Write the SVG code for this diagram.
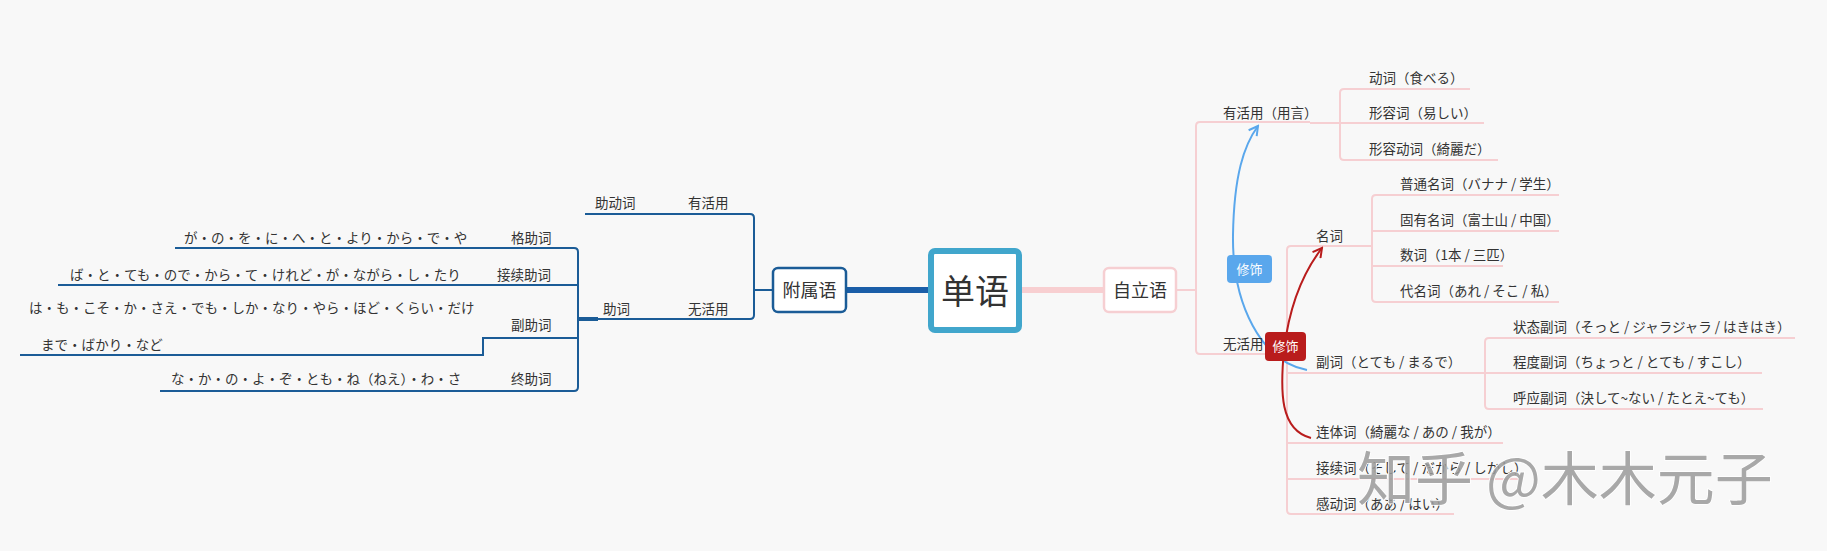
<svg xmlns="http://www.w3.org/2000/svg" width="1827" height="551" viewBox="0 0 1827 551">
<defs>
<style>
text{font-family:"Noto Sans CJK SC","Noto Sans CJK JP",sans-serif;fill:#333;font-size:13.5px}
.b{fill:none;stroke:#1b5c97;stroke-width:2}
.p{fill:none;stroke:#f6cfd2;stroke-width:2}
.lt{text-anchor:start}
</style>
<marker id="ab" viewBox="0 0 12 12" refX="10" refY="6" markerWidth="12" markerHeight="12" markerUnits="userSpaceOnUse" orient="auto"><path d="M1,1 L10,6 L1,11" fill="none" stroke="#5aa7ec" stroke-width="2"/></marker>
<marker id="ar" viewBox="0 0 12 12" refX="10" refY="6" markerWidth="12" markerHeight="12" markerUnits="userSpaceOnUse" orient="auto"><path d="M1,1 L10,6 L1,11" fill="none" stroke="#b91c1c" stroke-width="2"/></marker>
</defs>
<rect width="1827" height="551" fill="#f8f8f8"/>
<g id="connectors">
<line x1="847" y1="290" x2="928" y2="290" stroke="#1a5ea8" stroke-width="6"/>
<line x1="1022" y1="290" x2="1103" y2="290" stroke="#f8cfd1" stroke-width="6"/>
<path class="b" d="M772,290 H754 M585,214 H750 Q754,214 754,218 V315 Q754,319 750,319 H579"/>
<path class="b" d="M175,248 H574 Q578,248 578,252 V387 Q578,391 574,391 H160 M578,338 H483 V355 H20 M58,285 H578"/>
<line x1="578" y1="319" x2="598" y2="319" stroke="#1b5c97" stroke-width="4"/>
<path class="p" d="M1177,290 H1196 M1310,122 H1200 Q1196,122 1196,126 V350 Q1196,354 1200,354 H1287"/>
<path class="p" d="M1310,123 H1340 M1470,89 H1344 Q1340,89 1340,93 V156 Q1340,160 1344,160 H1498 M1340,123 H1484"/>
<path class="p" d="M1372,246 H1291 Q1287,246 1287,250 V510 Q1287,514 1291,514 H1454 M1287,373 H1485 M1287,443 H1503 M1287,479 H1518"/>
<path class="p" d="M1559,195 H1376 Q1372,195 1372,199 V298 Q1372,302 1376,302 H1559 M1372,231 H1559 M1372,266 H1503"/>
<path class="p" d="M1795,338 H1489 Q1485,338 1485,342 V405 Q1485,409 1489,409 H1763 M1485,373 H1762"/>
<path d="M1307,370 C1262,362 1232,305 1233,235 C1234,175 1244,145 1258,126" fill="none" stroke="#5aa7ec" stroke-width="2" marker-end="url(#ab)"/>
<path d="M1311,438 C1280,430 1280,392 1284,350 C1290,300 1305,270 1322,248" fill="none" stroke="#b91c1c" stroke-width="2" marker-end="url(#ar)"/>
</g>
<g id="n-root"><rect x="931" y="251" width="88" height="79" rx="4" fill="#fff" stroke="#41a6cc" stroke-width="6"/><text x="975" y="304" text-anchor="middle" style="font-size:34px">单语</text></g>
<g id="n-fuzokugo"><rect x="773" y="268" width="73" height="44" rx="5" fill="#fff" stroke="#1b5c97" stroke-width="2.5"/><text x="809.5" y="297" text-anchor="middle" style="font-size:18px">附属语</text></g>
<g id="n-jiritsugo"><rect x="1104" y="268" width="72" height="44" rx="5" fill="#fff" stroke="#f6cfd2" stroke-width="2.5"/><text x="1140" y="297" text-anchor="middle" style="font-size:18px">自立语</text></g>
<g id="n-left">
<text x="595" y="208">助动词</text><text x="688" y="208">有活用</text>
<text x="603" y="314">助词</text><text x="688" y="314">无活用</text>
<text x="511" y="243">格助词</text><text x="184" y="243">が・の・を・に・へ・と・より・から・で・や</text>
<text x="497" y="280">接续助词</text><text x="70" y="280">ば・と・ても・ので・から・て・けれど・が・ながら・し・たり</text>
<text x="511" y="330">副助词</text><text x="29" y="313">は・も・こそ・か・さえ・でも・しか・なり・やら・ほど・くらい・だけ</text><text x="41" y="350">まで・ばかり・など</text>
<text x="511" y="384">终助词</text><text x="171" y="384">な・か・の・よ・ぞ・とも・ね（ねえ）・わ・さ</text>
</g>
<g id="n-right">
<text x="1223" y="118">有活用（用言）</text>
<text x="1369" y="83">动词（食べる）</text>
<text x="1369" y="118">形容词（易しい）</text>
<text x="1369" y="154">形容动词（綺麗だ）</text>
<text x="1316" y="241">名词</text>
<text x="1400" y="189">普通名词（バナナ / 学生）</text>
<text x="1400" y="225">固有名词（富士山 / 中国）</text>
<text x="1400" y="260">数词（1本 / 三匹）</text>
<text x="1400" y="296">代名词（あれ / そこ / 私）</text>
<text x="1223" y="349">无活用</text>
<text x="1316" y="367">副词（とても / まるで）</text>
<text x="1513" y="332">状态副词（そっと / ジャラジャラ / はきはき）</text>
<text x="1513" y="367">程度副词（ちょっと  / とても / すこし）</text>
<text x="1513" y="403">呼应副词（決して~ない / たとえ~ても）</text>
<text x="1316" y="437">连体词（綺麗な / あの / 我が）</text>
<text x="1316" y="473">接续词（そして / だから / しかし）</text>
<text x="1316" y="509">感动词（ああ / はい）</text>
</g>
<g id="n-mod1"><rect x="1227" y="255" width="45" height="28" rx="4" fill="#5aa7ec"/><text x="1249.5" y="274" text-anchor="middle" style="fill:#fff;font-size:13px">修饰</text></g>
<g id="n-mod2"><rect x="1265" y="332" width="41" height="29" rx="4" fill="#b91c1c"/><text x="1285.5" y="351" text-anchor="middle" style="fill:#fff;font-size:13px">修饰</text></g>
<text x="1357" y="500" style="font-size:58px;fill:#9a9a9a;fill-opacity:0.85;stroke:#fff;stroke-width:1.5;paint-order:stroke">知乎 @木木元子</text>
</svg>
